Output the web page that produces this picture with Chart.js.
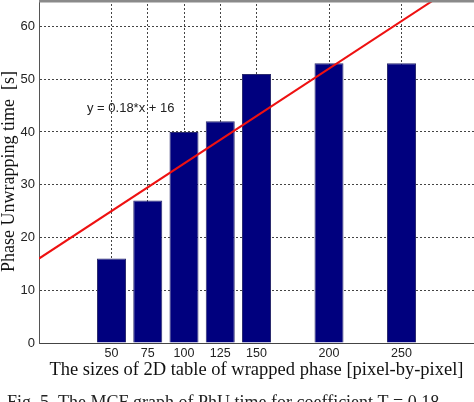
<!DOCTYPE html>
<html>
<head>
<meta charset="utf-8">
<script src="https://cdn.jsdelivr.net/npm/chart.js@4"></script>
<style>
  html, body { margin: 0; padding: 0; background: #fff; }
  #wrap { width: 474px; height: 402px; }
</style>
</head>
<body>
<div id="wrap"><canvas id="grafica"></canvas></div>
<script>
// Datos
const tamanos = [50, 75, 100, 125, 150, 200, 250];     // tamaño de la tabla 2D
const tiempos = [16, 27, 40, 42, 51, 53, 53];          // tiempo de desenvolvimiento [s]
const ajusteX = [0, 300];                              // recta de ajuste y = 0.18*x + 16
const ajusteY = [16, 70];
const ticksX = [50, 75, 100, 125, 150, 200, 250];
const ticksY = [0, 10, 20, 30, 40, 50, 60];

const ecuacion = "y = 0.18*x + 16";
const pie = "Fig. 5. The MCF graph of PhU time for coefficient T = 0.18";

// Textos extra: ecuacion, borde superior y pie de figura
const extras = {
  id: "extras",
  afterDraw(chart) {
    const ctx = chart.ctx;
    const a = chart.chartArea;
    ctx.save();
    ctx.strokeStyle = "#8a8a8a";
    ctx.lineWidth = 3;
    ctx.beginPath();
    ctx.moveTo(a.left, 1);
    ctx.lineTo(a.right, 1);
    ctx.stroke();

    ctx.fillStyle = "#222";
    ctx.font = "13px 'Liberation Sans', Arial, sans-serif";
    ctx.textBaseline = "middle";
    ctx.textAlign = "left";
    ctx.fillText(ecuacion, 87, 108);

    ctx.font = "18px 'Liberation Serif', 'Times New Roman', serif";
    ctx.textBaseline = "alphabetic";
    ctx.fillText(pie, 7, 408);
    ctx.restore();
  },
};

const datos = {
  datasets: [
    {
      type: "line",
      data: ajusteX.map((x, i) => ({ x: x, y: ajusteY[i] })),
      borderColor: "#ee1111",
      borderWidth: 2,
      pointRadius: 0,
      tension: 0,
      order: 0,
    },
    {
      type: "bar",
      data: tamanos.map((x, i) => ({ x: x, y: tiempos[i] })),
      backgroundColor: "#00007e",
      borderColor: "#2b2b6e",
      borderWidth: 1,
      barPercentage: 0.8,
      categoryPercentage: 1.0,
      order: 1,
    },
  ],
};

// Quita el relleno que Chart.js deja para las etiquetas de los extremos
function sinRelleno(s) {
  s.paddingTop = 0;
  s.paddingBottom = 0;
  s.paddingLeft = 0;
  s.paddingRight = 0;
}

const config = {
  type: "bar",
  data: datos,
  plugins: [extras],
  options: {
    responsive: true,
    maintainAspectRatio: false,
    animation: false,
    layout: { padding: 0 },
    plugins: { legend: { display: false }, tooltip: { enabled: false } },
    scales: {
      x: {
        type: "linear",
        min: 0,
        max: 300,
        offset: false,
        afterBuildTicks: (s) => { s.ticks = ticksX.map((v) => ({ value: v })); },
        afterFit: (s) => { s.height = 59; sinRelleno(s); },
        grid: {
          offset: false,
          drawTicks: false,
          color: "#444",
          lineWidth: 1,
        },
        border: { display: true, color: "#444", width: 1, dash: [2, 2] },
        ticks: {
          padding: 3,
          color: "#222",
          font: { family: "'Liberation Sans', Arial, sans-serif", size: 12.5 },
        },
        title: {
          display: true,
          text: "The sizes of 2D table of wrapped phase [pixel-by-pixel]",
          color: "#111",
          font: { family: "'Liberation Serif', 'Times New Roman', serif", size: 18.5 },
          padding: { top: 0, bottom: 21 },
        },
      },
      y: {
        min: 0,
        max: 65,
        afterBuildTicks: (s) => { s.ticks = ticksY.map((v) => ({ value: v })); },
        afterFit: (s) => { s.width = 39; sinRelleno(s); },
        grid: {
          drawTicks: false,
          color: "#444",
          lineWidth: 1,
        },
        border: { display: true, color: "#555", width: 1, dash: [2, 2] },
        ticks: {
          padding: 4,
          color: "#222",
          font: { family: "'Liberation Sans', Arial, sans-serif", size: 13 },
        },
        title: {
          display: true,
          text: "Phase Unwrapping time  [s]",
          color: "#111",
          font: { family: "'Liberation Serif', 'Times New Roman', serif", size: 18, lineHeight: 1 },
          padding: { top: 0, bottom: 0 },
        },
      },
    },
  },
};

new Chart(document.getElementById("grafica").getContext("2d"), config);
</script>
</body>
</html>
